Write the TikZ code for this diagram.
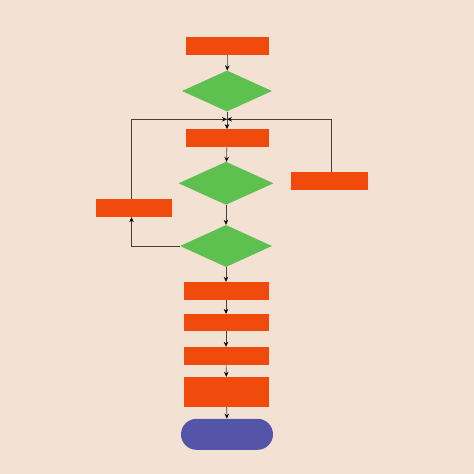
\documentclass[tikz,border=0pt]{standalone}
\usepackage{tikz}
\usetikzlibrary{shapes.geometric,shapes.misc,arrows.meta}

\definecolor{bgcol}{HTML}{F3E1D3}
\definecolor{boxcol}{HTML}{F04B0C}
\definecolor{diacol}{HTML}{5EC04E}
\definecolor{endcol}{HTML}{5454A8}

\tikzset{
  box/.style={fill=boxcol,inner sep=0pt,minimum width=#1,minimum height=18pt},
  dia/.style={diamond,fill=diacol,inner sep=0pt},
  flow/.style={draw=black!75,line width=0.6pt,-{Stealth[length=5pt,width=4.5pt,color=black]}}
}

\begin{document}
\begin{tikzpicture}
[x=1pt,y=-1pt]
\fill[bgcol] (0,0) rectangle (474,474);
\useasboundingbox (0,0) rectangle (474,474);
\node[box=83pt] (r1) at (227.5,46) {};
\node[dia,minimum width=90pt,minimum height=41pt] (d1) at (227,91) {};
\coordinate (j) at (227,119.3);
\node[box=83pt] (r2) at (227,138.3) {};
\node[dia,minimum width=95pt,minimum height=43pt] (d2) at (226,183.3) {};
\node[box=77pt] (rr) at (329,181.3) {};
\node[box=76pt] (rl) at (134,208) {};
\node[dia,minimum width=92pt,minimum height=42pt] (d3) at (226,246) {};
\node[box=85pt] (r3) at (226,291) {};
\node[box=85pt,minimum height=17pt] (r4) at (226,322.6) {};
\node[box=85pt] (r5) at (226,356) {};
\node[box=85pt,minimum height=30pt] (r6) at (226.6,392) {};
\node[rounded rectangle,fill=endcol,inner sep=0pt,minimum width=92pt,minimum height=31pt] (t) at (227,434.3) {};
\foreach \from/\to in {r1/d1,r2/d2,d2/d3,d3/r3,r3/r4,r4/r5,r5/r6,r6/t}
\draw[flow] (\from) -- (\to);
\draw[draw=black!75,line width=0.6pt] (d1) -- (j);
\draw[flow] (j) -- (r2);
\draw[flow] ([xshift=2.5pt]rr.north) |- (j);
\draw[flow] ([xshift=-2.5pt]rl.north) |- (j);
\draw[flow] (d3.west) -| ([xshift=-2.5pt]rl.south);
\end{tikzpicture}
\end{document}
